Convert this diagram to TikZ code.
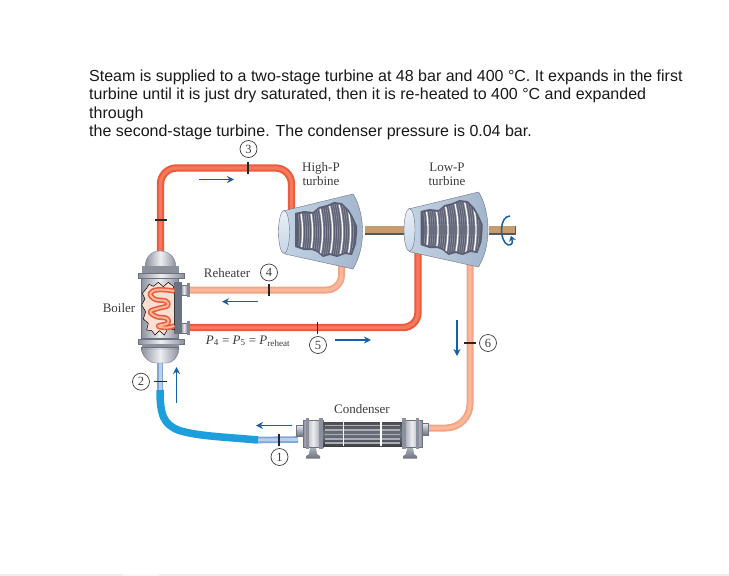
\documentclass[tikz,border=0pt]{standalone}
\usepackage{fontspec}
\setmainfont{Liberation Serif}
\newfontfamily\textsans{Liberation Sans}
\usetikzlibrary{arrows.meta}
\definecolor{hotA}{HTML}{EC5A3C}
\definecolor{hotB}{HTML}{F5795A}
\definecolor{warmA}{HTML}{F4A384}
\definecolor{warmB}{HTML}{F9B89C}
\definecolor{coolA}{HTML}{7FA6D6}
\definecolor{coolB}{HTML}{B8D0EC}
\definecolor{wet}{HTML}{1C9FDC}
\definecolor{flow}{HTML}{1560A8}
\definecolor{ink}{HTML}{3C3C3C}
\definecolor{steelD}{HTML}{6D7280}
\definecolor{steelE}{HTML}{8C909C}
\definecolor{steelM}{HTML}{A9ADB7}
\definecolor{steelL}{HTML}{EDEEF1}
\definecolor{cone}{HTML}{AEC3DC}
\definecolor{shaftc}{HTML}{C69C6E}
\definecolor{bladeD}{HTML}{5A5E70}
\definecolor{bladeM}{HTML}{85899A}
\tikzset{
  hotpipe/.style={draw=hotA,double=hotB,line width=2pt,double distance=3.4pt},
  warmpipe/.style={draw=warmA,double=warmB,line width=1.8pt,double distance=3.4pt},
  coolpipe/.style={draw=coolA,double=coolB,line width=1.8pt,double distance=3pt},
  wetpipe/.style={draw=wet,line width=7.5pt},
  tick/.style={draw=black!85,line width=1.2pt},
  flowarrow/.style={draw=flow,line width=1.5pt,-{Stealth[length=7pt,width=7pt]}},
  statept/.style={circle,draw=ink,line width=.7pt,minimum size=17pt,inner sep=0pt,text=ink,font=\fontsize{12.5}{12.5}\selectfont},
  lbl/.style={text=ink,font=\fontsize{13}{14}\selectfont,inner sep=0pt,align=center},
  para/.style={anchor=base west,inner sep=0pt,font=\textsans\fontsize{16}{18}\selectfont,text=black!90},
  steelH/.style={left color=steelE,right color=steelE,middle color=steelL,draw=steelD,line width=.3pt},
  steelV/.style={top color=steelL,bottom color=steelD,middle color=steelM,draw=steelD,line width=.3pt},
  turbine/.pic={
    \path[left color=cone!75!white,right color=cone!92!black,draw=steelD,line width=.4pt]
      (-1,-21) -- (69,-38) .. controls (78,-25) and (85,10) .. (69,37) -- (1,22) -- cycle;
    \path[fill=bladeD] (11,-19) -- (20,-21) -- (29,-20) -- (35,-25) -- (43,-27) -- (50,-30) -- (58,-29) -- (65,-22) -- (69,-15) -- (73,-6) -- (73,1) -- (72,12) -- (68,23) -- (61,22) -- (53,25) -- (46,23) -- (39,25) -- (33,20) -- (28,18) -- (20,18) -- (11,15) -- cycle;
    \begin{scope}
      \clip (12,-17) -- (20,-19) -- (29,-18) -- (35,-23) -- (43,-25) -- (50,-28) -- (58,-27) -- (64,-20) -- (68,-13) -- (71,-6) -- (71,1) -- (70,12) -- (67,21) -- (61,20) -- (53,23) -- (46,21) -- (39,23) -- (33,18) -- (28,16) -- (20,16) -- (12,13) -- cycle;
      \foreach \u in {11,13,15,17,19,21,23,25,27,29,31,33,35,37,39,41,43,45,47,49,51,53,55,57,59,61,63,65,67,69}{
        \draw[bladeM,line width=.8pt] (\u,-32) .. controls (\u+6,-10) and (\u+6,10) .. (\u,32);
      }
      \foreach \u in {17,27,37,47,57,65}{
        \draw[white,line width=1.3pt] (\u-3,-32) .. controls (\u+3,-10) and (\u+3,10) .. (\u-3,32);
      }
    \end{scope}
    \path[top color=white!75!cone,bottom color=white!30!cone,draw=steelD,line width=.4pt] (0,0) ellipse [x radius=5.5,y radius=21.5];
  },
  pedestal/.pic={
    \path[top color=steelM,bottom color=steelD] (-3,0) -- (3,0) -- (4,6) -- (7,8) -- (7,10.5) -- (-7,10.5) -- (-7,8) -- (-4,6) -- cycle;
  }
}
\begin{document}
\begin{tikzpicture}[x=1pt,y=-1pt]
\useasboundingbox (0,0) rectangle (729,576);
\fill[white] (0,0) rectangle (729,576);
\fill[black!7] (0,574) rectangle (729,576);
\fill[black!3] (123,574) rectangle (159,576);

% statement
\node[para] (line1) at (89,81) {Steam is supplied to a two-stage turbine at 48 bar and 400 °C. It expands in the first};
\node[para] (line2) at (89,99.5) {turbine until it is just dry saturated, then it is re-heated to 400 °C and expanded};
\node[para] (line3) at (89,118) {through};
\node[para] (line4) at (89,136.5) {the second-stage turbine. The condenser pressure is 0.04 bar.};

% anchors of the pipes
\coordinate (boilerTop) at (160.5,254);
\coordinate (hpIn) at (291.5,212);
\coordinate (hpOut) at (341.5,262);
\coordinate (reIn) at (188,290);
\coordinate (reOut) at (188,327.5);
\coordinate (lpIn) at (418,250);
\coordinate (lpOut) at (470,262);
\coordinate (condIn) at (426,428);
\coordinate (condOut) at (298,439.5);
\coordinate (boilerBot) at (160,362);
\coordinate (wetA) at (160,390);
\coordinate (wetB) at (258,440);

% pipes
\draw[hotpipe,rounded corners=16pt] (boilerTop) |- (248,168) -| (hpIn);
\draw[warmpipe,rounded corners=15pt] (reIn) -- (341.5,290) -- (hpOut);
\draw[hotpipe,rounded corners=15pt] (reOut) -- (418,327.5) -- (lpIn);
\draw[warmpipe,rounded corners=24pt] (lpOut) -- (470,428) -- (condIn);
\draw[coolpipe] (boilerBot) -- (wetA);
\draw[coolpipe] (wetB) -- (condOut);
\draw[wetpipe] (wetA) .. controls (160,416) and (164,424) .. (178,430) .. controls (195,436) and (225,437) .. (wetB);

% turbines
\draw[draw=black!65,line width=8.5pt] (365,230.5) -- (410,230.5);
\draw[draw=black!65,line width=8.5pt] (489,230.5) -- (516,230.5);
\draw[draw=shaftc,line width=6.5pt] (365,229.5) -- (410,229.5);
\draw[draw=shaftc,line width=6.5pt] (489,229.5) -- (515,229.5);
\pic at (284,232) {turbine};
\pic at (409.5,230) {turbine};
\draw[flow,line width=1.5pt] (510,216) .. controls (499,216) and (499,241) .. (508,245);
\draw[flow,line width=1.5pt,-{Stealth[length=5pt,width=7pt]}] (508,245) .. controls (512,245) and (513,243) .. (511,236);

% boiler
\path[steelH] (145,268) .. controls (145,256) and (152,251) .. (160,251) .. controls (168,251) and (176,256) .. (176,268) -- cycle;
\path[fill=steelE] (142,266) rectangle (179,270);
\path[steelH] (141,278) rectangle (178,338);
\path[steelH] (138,273) rectangle (184,278);
\path[fill=steelE] (142,270) rectangle (179,273);
\path[steelH] (138,339) rectangle (184,344);
\path[fill=steelE] (142,344) rectangle (179,347);
\path[steelH] (141,347) rectangle (178,349);
\path[steelH] (141,349) .. controls (143,358) and (150,363) .. (155,363) -- (167,363) .. controls (172,363) and (178,358) .. (179,349) -- cycle;
\path[fill=steelD] (174,282) rectangle (182,334);
\path[steelH] (181,285) rectangle (187,295);
\path[steelH] (181,323) rectangle (187,333);
\path[fill=steelD!85] (187,283) rectangle (190,297);
\path[fill=steelD!85] (187,321) rectangle (190,335);
\begin{scope}[shift={(125,245)},scale=1/3]
  \path[fill=warmB!45!white,draw=black,line width=.5pt] (65,130) -- (72,118) -- (85,124) -- (100,112) -- (115,125) -- (130,112) -- (145,124) -- (148,150) -- (148,255) -- (130,248) -- (118,270) -- (103,257) -- (90,270) -- (80,257) -- (65,255) -- (70,235) -- (55,222) -- (62,200) -- (50,180) -- (60,162) -- (52,145) -- cycle;
  \draw[draw=hotA,double=warmB,line width=1.6pt,double distance=2pt,line join=round]
    plot[smooth,tension=.7] coordinates {(148,138) (100,134) (76,145) (90,163) (122,168) (128,182) (100,190) (76,200) (95,215) (125,220) (128,235) (100,243) (125,248) (148,242)};
\end{scope}

% condenser
\path[steelV] (296,425) rectangle (303,436);
\path[steelH] (303,420) rectangle (323,447);
\path[fill=steelE] (306,418) rectangle (309,449);
\path[fill=steelE] (319,418) rectangle (323,449);
\path[top color=black!70,bottom color=black!75,middle color=steelD,draw=none] (323,422) rectangle (402,446);
\foreach \yy in {425.5,430,434.5,439,443}{
  \draw[draw=steelM,line width=1.1pt] (325,\yy) -- (400,\yy);
}
\fill[white] (342.5,421) rectangle (344,446);
\fill[white] (380,421) rectangle (381.5,446);
\path[steelH] (402,420) rectangle (422,447);
\path[fill=steelE] (402,418) rectangle (406,449);
\path[fill=steelE] (416,418) rectangle (419,449);
\path[steelV] (422,423) rectangle (428,435);
\pic at (313,448) {pedestal};
\pic at (410,448) {pedestal};

% ticks
\coordinate (t3a) at (248,162); \coordinate (t3b) at (248,174);
\coordinate (tAa) at (154.5,220); \coordinate (tAb) at (167,220);
\coordinate (t4a) at (269,284); \coordinate (t4b) at (269,296);
\coordinate (t5a) at (317.5,321.5); \coordinate (t5b) at (317.5,333.5);
\coordinate (t6a) at (464,343); \coordinate (t6b) at (476,343);
\coordinate (t2a) at (154,381.7); \coordinate (t2b) at (167,381.7);
\coordinate (t1a) at (279,433.5); \coordinate (t1b) at (279,446);
\foreach \a/\b in {t3a/t3b,tAa/tAb,t4a/t4b,t5a/t5b,t6a/t6b,t2a/t2b,t1a/t1b}{\draw[tick] (\a) -- (\b);}

% flow arrows
\coordinate (f1a) at (199,179.5); \coordinate (f1b) at (234,179.5);
\coordinate (f2a) at (258,301.7); \coordinate (f2b) at (222,301.7);
\coordinate (f3a) at (335,340); \coordinate (f3b) at (371,340);
\coordinate (f4a) at (457,320); \coordinate (f4b) at (457,356);
\coordinate (f5a) at (176.5,403); \coordinate (f5b) at (176.5,367);
\coordinate (f6a) at (292,425.5); \coordinate (f6b) at (256,425.5);
\foreach \a/\b in {f1a/f1b,f2a/f2b,f3a/f3b,f4a/f4b,f5a/f5b,f6a/f6b}{\draw[flowarrow] (\a) -- (\b);}

% state points
\node[statept] (s3) at (248.5,149) {3};
\node[statept] (s4) at (269,272.5) {4};
\node[statept] (s5) at (318,345) {5};
\node[statept] (s6) at (488,343) {6};
\node[statept] (s2) at (141,381.7) {2};
\node[statept] (s1) at (279.5,457) {1};

% labels
\node[lbl] (hp) at (321,174) {High-P\\turbine};
\node[lbl] (lp) at (447,174) {Low-P\\turbine};
\node[lbl] (re) at (227,273) {Reheater};
\node[lbl] (bo) at (119,308) {Boiler};
\node[lbl] (co) at (362,409.5) {Condenser};
\node[lbl] (pr) at (248,341) {\textit{P}\textsubscript{4} = \textit{P}\textsubscript{5} = \textit{P}\textsubscript{reheat}};
\end{tikzpicture}
\end{document}
